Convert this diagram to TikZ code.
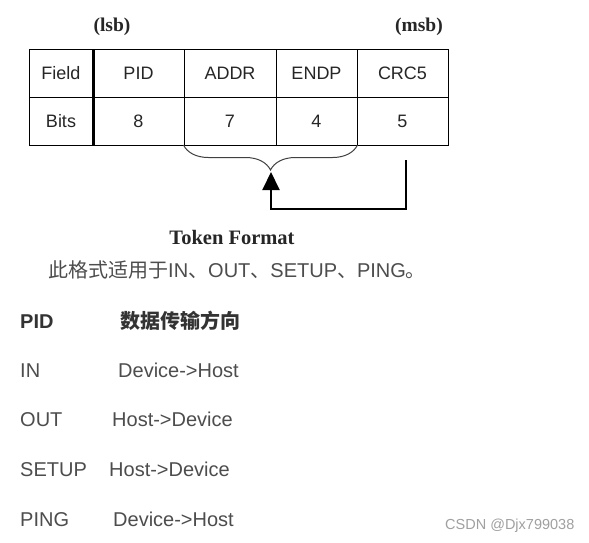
\documentclass[tikz,border=0pt]{standalone}
\usepackage{fontspec}
\setmainfont{Liberation Sans}
\newfontfamily\tnr{Liberation Serif}
\newfontfamily\cjk{Noto Sans CJK SC}
\usetikzlibrary{arrows.meta,decorations.pathreplacing}
\definecolor{txtgray}{HTML}{4D4D4D}
\definecolor{boldgray}{HTML}{333333}
\definecolor{wmgray}{HTML}{A0A0A0}
\begin{document}
\begin{tikzpicture}[x=1pt,y=-1pt,
  cell/.style={draw=black,line width=1pt,inner sep=0pt,minimum height=48pt,
    font=\fontsize{18}{20}\selectfont,text=black!85},
  serifbold/.style={inner sep=0pt,font=\tnr\bfseries\fontsize{19.5}{22}\selectfont,text=black!85},
  body/.style={anchor=base west,inner sep=0pt,font=\fontsize{20}{22}\selectfont,text=txtgray},
  bodybold/.style={anchor=base west,inner sep=0pt,font=\bfseries\fontsize{20}{22}\selectfont,text=boldgray},
  link/.style={line width=2pt,black}
]
\useasboundingbox (0,0) rectangle (589,542);
\fill[white] (0,0) rectangle (589,542);

% header labels
\node[serifbold] (lsb) at (112,27) {(lsb)};
\node[serifbold] (msb) at (419,27) {(msb)};

% table cells
\node[cell,minimum width=64pt]  (fField) at (61,73.5)  {Field};
\node[cell,minimum width=91pt]  (fPID)   at (138.5,73.5) {PID};
\node[cell,minimum width=92pt]  (fADDR)  at (230,73.5) {ADDR};
\node[cell,minimum width=81pt]  (fENDP)  at (316.5,73.5) {ENDP};
\node[cell,minimum width=91pt]  (fCRC)   at (402.5,73.5) {CRC5};
\node[cell,minimum width=64pt]  (bField) at (61,121.5) {Bits};
\node[cell,minimum width=91pt]  (bPID)   at (138.5,121.5) {8};
\node[cell,minimum width=92pt]  (bADDR)  at (230,121.5) {7};
\node[cell,minimum width=81pt]  (bENDP)  at (316.5,121.5) {4};
\node[cell,minimum width=91pt]  (bCRC)   at (402.5,121.5) {5};
\draw[line width=2.2pt] (fField.north east) -- (bField.south east);

% brace
\draw[line width=1pt,black!75,decorate,decoration={brace,amplitude=25pt}]
  ([yshift=1pt]bENDP.south east) -- ([yshift=1pt]bADDR.south west);
\coordinate (bracetip) at (271,172);
\coordinate (crcfoot) at (406,160);
\coordinate (bend) at (406,209);
\draw[link,-{Triangle[length=18pt,width=17pt]}] (crcfoot) -- (bend) -| (bracetip);

\node[serifbold,font=\tnr\bfseries\fontsize{20.5}{22}\selectfont] (title) at (232,237) {Token Format};

% text below
\node[body] (intro) at (48,277) {{\cjk 此格式适用于}IN{\cjk 、}OUT{\cjk 、}SETUP{\cjk 、}PING{\cjk 。}};
\node[bodybold] (hPID) at (20,328) {PID};
\node[bodybold,font=\cjk\bfseries\fontsize{20}{22}\selectfont] (hDir) at (120,328) {数据传输方向};
\node[body] (pIN) at (20,377) {IN};
\node[body] (dIN) at (118,377) {Device->Host};
\node[body] (pOUT) at (20,426) {OUT};
\node[body] (dOUT) at (112,426) {Host->Device};
\node[body] (pSETUP) at (20,476) {SETUP};
\node[body] (dSETUP) at (109,476) {Host->Device};
\node[body] (pPING) at (20,526) {PING};
\node[body] (dPING) at (113,526) {Device->Host};
\node[anchor=base west,inner sep=0pt,font=\fontsize{14.5}{16}\selectfont,text=wmgray] (wm) at (445,529) {CSDN @Djx799038};
\end{tikzpicture}
\end{document}
